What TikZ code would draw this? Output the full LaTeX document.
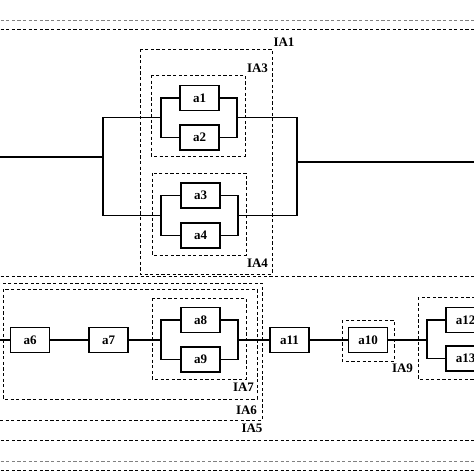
\documentclass[tikz,border=0pt]{standalone}
\usepackage{fontspec}
\setmainfont{Liberation Serif}
\begin{document}
\begin{tikzpicture}[x=1pt,y=-1pt,
  blk/.style={draw,line width=1.5pt,minimum width=39pt,minimum height=25pt,inner sep=0pt,font=\bfseries\fontsize{13}{13}\selectfont},
  wire/.style={line width=1.5pt},
  area/.style={draw,line width=1pt,dash pattern=on 3.2pt off 2.4pt},
  lbl/.style={inner sep=0pt,font=\bfseries\fontsize{13}{13}\selectfont}]
\useasboundingbox (0,0) rectangle (474,474);
\begin{scope}
\clip (0,0) rectangle (474,474);
% outer dashed lines
\draw[area,draw=gray] (-5,20) -- (480,20);
\draw[area] (-5,29) -- (480,29);
\draw[area] (-5,276) -- (480,276);
\draw[area] (-5,440) -- (480,440);
\draw[area,draw=gray] (-5,461) -- (480,461);
\draw[area] (-5,470) -- (480,470);
% areas top
\draw[area] (140,49) rectangle (272,274);
\draw[area] (151,75) rectangle (245,156);
\draw[area] (152,173) rectangle (246,255);
\node[lbl] (IA1) at (284,42) {IA1};
\node[lbl] (IA3) at (257.5,68) {IA3};
\node[lbl] (IA4) at (257.5,263) {IA4};
% areas bottom
\draw[area] (-3,283) rectangle (262,420);
\draw[area] (3,289) rectangle (257,399);
\draw[area] (152,298) rectangle (246,379);
\draw[area] (342,320) rectangle (394,361);
\draw[area] (418,297) rectangle (485,379);
\node[lbl] (IA7) at (243.5,387) {IA7};
\node[lbl] (IA6) at (246.5,410) {IA6};
\node[lbl] (IA5) at (252,428) {IA5};
\node[lbl] (IA9) at (402.5,368) {IA9};
% blocks top
\node[blk] (a1) at (199.5,98) {a1};
\node[blk] (a2) at (199.5,137.5) {a2};
\node[blk] (a3) at (200.5,195.5) {a3};
\node[blk] (a4) at (200.5,235.5) {a4};
% blocks bottom
\node[blk] (a6) at (30,340) {a6};
\node[blk] (a7) at (108.5,340) {a7};
\node[blk] (a8) at (200.5,320) {a8};
\node[blk] (a9) at (200.5,359.5) {a9};
\node[blk] (a11) at (289.5,340) {a11};
\node[blk] (a10) at (368,340) {a10};
\node[blk] (a12) at (465.5,320) {a12};
\node[blk] (a13) at (465.5,358.5) {a13};
% coordinates top
\coordinate (in) at (0,157);
\coordinate (busL) at (103,157);
\coordinate (g1L) at (161,117.5);
\coordinate (g1R) at (237,117.5);
\coordinate (g2L) at (161,215.5);
\coordinate (g2R) at (238,215.5);
\coordinate (busR) at (297,162);
\coordinate (out) at (474,162);
% wires top
\draw[wire] (in) -- (busL);
\draw[wire] (g1L) -- (103,117.5) -- (103,215.5) -- (g2L);
\draw[wire] (a1.west) -| (g1L) |- (a2.west);
\draw[wire] (a1.east) -| (g1R) |- (a2.east);
\draw[wire] (a3.west) -| (g2L) |- (a4.west);
\draw[wire] (a4.east) -| (g2R) |- (a3.east);
\draw[wire] (g1R) -- (297,117.5) -- (297,215.5) -- (g2R);
\draw[wire] (busR) -- (out);
% coordinates bottom
\coordinate (in2) at (0,340);
\coordinate (p8L) at (161,340);
\coordinate (p8R) at (238,340);
\coordinate (p12L) at (427,340);
% wires bottom
\draw[wire] (in2) -- (a6.west);
\draw[wire] (a6) -- (a7);
\draw[wire] (a7) -- (p8L);
\draw[wire] (a8.west) -| (p8L) |- (a9.west);
\draw[wire] (a8.east) -| (p8R) |- (a9.east);
\draw[wire] (p8R) -- (a11);
\draw[wire] (a11) -- (a10);
\draw[wire] (a10) -- (p12L);
\draw[wire] (a12.west) -| (p12L) |- (a13.west);
\end{scope}
\end{tikzpicture}
\end{document}
